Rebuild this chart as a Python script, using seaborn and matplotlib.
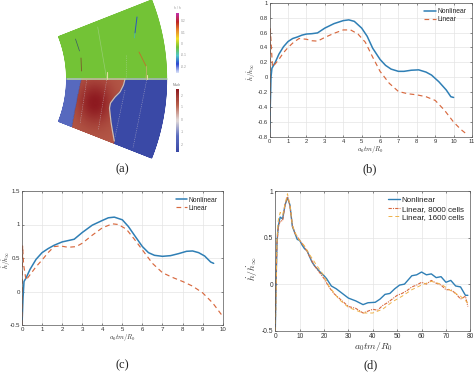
import numpy as np
import pandas as pd
import matplotlib
matplotlib.use('Agg')
import matplotlib.pyplot as plt
from matplotlib.colors import LinearSegmentedColormap
import seaborn as sns

# panel b
b_nl_t = [0, 0.03, 0.07, 0.12, 0.3, 0.5, 0.75, 1, 1.25, 1.5, 1.75, 2, 2.3, 2.6, 3, 3.5, 4, 4.3, 4.6, 5, 5.3, 5.6, 6, 6.3, 6.6, 7, 7.3, 7.7, 8.1, 8.5, 8.8, 9.2, 9.6, 9.85, 10]
b_nl_h = [-0.8, -0.4, 0, 0.12, 0.2, 0.31, 0.41, 0.48, 0.52, 0.54, 0.565, 0.58, 0.585, 0.595, 0.66, 0.72, 0.76, 0.77, 0.75, 0.66, 0.55, 0.39, 0.24, 0.16, 0.11, 0.08, 0.08, 0.095, 0.1, 0.07, 0.03, -0.06, -0.17, -0.26, -0.27]
b_li_t = [0, 0.03, 0.08, 0.15, 0.3, 0.5, 0.75, 1, 1.3, 1.6, 2, 2.3, 2.6, 3, 3.5, 4, 4.4, 4.8, 5.2, 5.6, 6, 6.5, 7, 7.5, 8, 8.5, 9, 9.5, 10, 10.4, 10.7]
b_li_h = [-0.8, 0.65, 0.45, 0.14, 0.18, 0.24, 0.33, 0.4, 0.47, 0.52, 0.51, 0.49, 0.485, 0.535, 0.59, 0.635, 0.635, 0.58, 0.47, 0.27, 0.08, -0.08, -0.19, -0.22, -0.235, -0.26, -0.31, -0.44, -0.6, -0.7, -0.76]

# panel c
c_nl_t = [0, 0.05, 0.1, 0.2, 0.4, 0.7, 1, 1.3, 1.6, 2, 2.3, 2.6, 3, 3.5, 4, 4.3, 4.6, 5, 5.3, 5.6, 6, 6.3, 6.6, 7, 7.4, 7.8, 8.2, 8.5, 8.8, 9.1, 9.4, 9.55]
c_nl_h = [-0.5, -0.1, 0.15, 0.2, 0.33, 0.48, 0.58, 0.64, 0.69, 0.74, 0.76, 0.78, 0.88, 0.99, 1.06, 1.1, 1.11, 1.07, 0.97, 0.84, 0.67, 0.58, 0.54, 0.525, 0.535, 0.565, 0.6, 0.605, 0.58, 0.53, 0.44, 0.42]
c_li_t = [0, 0.03, 0.08, 0.2, 0.4, 0.7, 1, 1.3, 1.6, 1.9, 2.3, 2.7, 3, 3.5, 4, 4.5, 4.8, 5.2, 5.6, 6, 6.5, 7, 7.5, 8, 8.5, 9, 9.5, 10]
c_li_h = [-0.5, 0.68, 0.4, 0.17, 0.25, 0.37, 0.47, 0.58, 0.67, 0.68, 0.66, 0.67, 0.72, 0.84, 0.95, 1.01, 1.0, 0.93, 0.78, 0.62, 0.42, 0.28, 0.21, 0.15, 0.08, -0.02, -0.17, -0.37]

# panel d
d_nl_t = [0, 0.3, 0.7, 1.2, 2, 3, 4, 5, 6, 7, 8, 9, 10, 11, 12, 13, 14, 15, 16, 18, 20, 21, 23, 25, 27, 30, 33, 36, 38, 41, 43, 45, 47, 49, 51, 53, 55, 56, 58, 60, 62, 64, 66, 68, 70, 72, 74, 76, 78, 79]
d_nl_h = [-0.5, 0, 0.45, 0.62, 0.72, 0.7, 0.85, 0.93, 0.85, 0.62, 0.55, 0.48, 0.47, 0.42, 0.38, 0.36, 0.3, 0.24, 0.2, 0.14, 0.09, 0.06, -0.02, -0.05, -0.09, -0.15, -0.18, -0.22, -0.2, -0.195, -0.16, -0.11, -0.1, -0.05, -0.01, 0, 0.06, 0.09, 0.1, 0.13, 0.1, 0.11, 0.07, 0.08, 0.02, 0.04, -0.02, -0.03, -0.12, -0.12]
d_l8_t = [0, 0.3, 0.7, 1.2, 2, 3, 4, 5, 6, 7, 8, 10, 12, 14, 16, 18, 20, 22, 24, 27, 30, 33, 36, 38, 40, 42, 44, 46, 48, 50, 52, 54, 56, 58, 60, 62, 64, 66, 68, 70, 72, 74, 76, 78, 79]
d_l8_h = [-0.5, 0, 0.45, 0.6, 0.68, 0.68, 0.85, 0.94, 0.84, 0.63, 0.55, 0.47, 0.4, 0.3, 0.2, 0.13, 0.06, -0.03, -0.1, -0.17, -0.24, -0.26, -0.31, -0.29, -0.27, -0.28, -0.23, -0.2, -0.16, -0.12, -0.1, -0.07, -0.03, -0.01, 0.02, 0, 0.04, 0.01, -0.01, -0.06, -0.06, -0.1, -0.16, -0.13, -0.24]
d_l1_t = [0, 0.3, 0.7, 1.2, 2, 3, 4, 5, 6, 7, 9, 12, 14, 17, 20, 22, 26, 30, 36, 40, 44, 48, 52, 56, 60, 64, 68, 72, 76, 79]
d_l1_h = [-0.5, -0.1, 0.5, 0.68, 0.77, 0.74, 0.86, 0.97, 0.85, 0.63, 0.5, 0.41, 0.32, 0.2, 0.09, -0.02, -0.16, -0.25, -0.31, -0.31, -0.27, -0.19, -0.13, -0.06, -0.01, 0.03, 0, -0.07, -0.13, -0.2]

# panel a, field boundaries
inner_y = [79, 100, 125]
inner_x = [81.7, 77, 72.3]
outer_y = [79, 85, 92, 97, 103, 108, 113, 122, 130, 141]
outer_x = [125, 123.5, 120, 115, 110.5, 109.5, 110, 111, 112.3, 114.3]
top_ticks = ['0.2', '0.1', '0', '-0.1', '-0.2']
bot_ticks = ['2', '1', '0', '-1', '-2']

BLUE = '#2f7fb5'
ORANGE = '#d8693f'
YELLOW = '#efb24a'

sns.set_style('white')
plt.rcParams['font.family'] = ['Liberation Sans', 'DejaVu Sans']
plt.rcParams['mathtext.fontset'] = 'cm'

W, H = 474, 372
fig = plt.figure(figsize=(W / 100, H / 100), dpi=100)


def px_axes(left, top, right, bottom):
    return fig.add_axes([left / W, 1 - bottom / H, (right - left) / W, (bottom - top) / H])


# overlay in pixel units for panel a and the captions
ax0 = fig.add_axes([0, 0, 1, 1])
ax0.set_xlim(0, W)
ax0.set_ylim(H, 0)
ax0.axis('off')

cx, cy = -48.9, 79
r_in, r_out = 115.5, 215.5
half = np.deg2rad(21.5)
rr = np.linspace(r_in, r_out, 200)

jet_top = LinearSegmentedColormap.from_list('top', ['#d3dcf6', '#2a45d0', '#4fc6c9', '#71c236', '#f0df25', '#e8862a', '#bd2323', '#c22fa5'])
warm = LinearSegmentedColormap.from_list('warm', ['#3a49a6', '#5a6cc0', '#e0d8d8', '#b8604c', '#8e1a20'])

# top half, flat green
tt = np.linspace(-half, 0, 80)
R, T = np.meshgrid(rr, tt)
ax0.pcolormesh(cx + R * np.cos(T), cy + R * np.sin(T), np.full(R.shape, 0.43), cmap=jet_top, vmin=0, vmax=1, shading='gouraud')

# bottom half
tt = np.linspace(0, half, 200)
R, T = np.meshgrid(rr, tt)
X = cx + R * np.cos(T)
Y = cy + R * np.sin(T)
in_edge = np.interp(Y, inner_y, inner_x)
out_edge = np.interp(Y, outer_y, outer_x)
field = np.full(X.shape, 0.0)
field[X < in_edge] = 0.23
inside = (X >= in_edge) & (X < out_edge)
blob = np.exp(-((X - 95) ** 2 / 260 + (Y - 103) ** 2 / 420))
field[inside] = (0.78 + 0.22 * blob)[inside]
ax0.pcolormesh(X, Y, field, cmap=warm, vmin=0, vmax=1, shading='gouraud')
edge_y = np.linspace(79, 141, 60)
ax0.plot(np.interp(edge_y, outer_y, outer_x), edge_y, color='#cdbcb4', lw=0.9)
ax0.plot([cx + r_in, cx + r_out], [cy, cy], color='#b9d9a4', lw=1.1)

# cell-block lines
for xs, ys in [([86.7, 80], [80, 124]), ([106.7, 98.3], [80, 130]), ([146.7, 133], [80, 148]), ([125, 115], [90, 137])]:
    ax0.plot(xs, ys, color='#c9c3cf', lw=0.4, ls=(0, (2, 2)), alpha=0.7)
ax0.plot([97.7, 106.7], [27, 79], color='#a5d28c', lw=0.5, alpha=0.7)
ax0.plot([126, 126], [55, 79], color='#a5d28c', lw=0.4, ls=(0, (2, 2)))
ax0.plot([146.7, 146], [66, 79], color='#c8b070', lw=0.5)
ax0.plot([106.7, 106.7], [72, 79], color='#dfe0a0', lw=0.8)
ax0.plot([146.7, 146.7], [75, 79], color='#dfe0a0', lw=0.8)

# shock streaks
ax0.plot([75.5, 79.5], [39, 51], color='#3c5a68', lw=0.5)
ax0.plot([81, 81.5], [58, 71], color='#7a5a2a', lw=0.6)
ax0.plot([137, 135], [17, 33], color='#2a55c0', lw=0.7)
ax0.plot([135, 134.5], [33, 38], color='#46b8c0', lw=0.5)
ax0.plot([139, 146], [52, 66], color='#c0702a', lw=0.6)

# colour bars
grad = np.linspace(1, 0, 60).reshape(-1, 1)
ax0.pcolormesh([175.7, 179.5], np.linspace(12.7, 73, 61), grad, cmap=jet_top, vmin=0, vmax=1)
ax0.pcolormesh([175.7, 179.5], np.linspace(89, 152, 61), grad, cmap=warm, vmin=0, vmax=1)
for lab, y in zip(top_ticks, [20.7, 32.7, 43.7, 55, 66.7]):
    ax0.text(181, y, lab, fontsize=2.4, color='#999999', va='center')
for lab, y in zip(bot_ticks, [95.7, 107.3, 120, 132.3, 145]):
    ax0.text(181, y, lab, fontsize=2.4, color='#999999', va='center')
ax0.text(177, 8, 'h / h', fontsize=2.4, color='#999999', ha='center', va='center')
ax0.text(177, 84.5, 'Mach', fontsize=2.4, color='#777777', ha='center', va='center')

for lab, x, y in [('(a)', 122, 169), ('(b)', 370, 169), ('(c)', 122.7, 365), ('(d)', 371, 365)]:
    ax0.text(x, y, lab, family='Liberation Serif', fontsize=9, color='#222222', ha='center', va='center')


def draw(ax, t, h, color, lw, ls, label):
    df = pd.DataFrame({'t': t, 'h': h})
    sns.lineplot(data=df, x='t', y='h', ax=ax, color=color, lw=lw, linestyle=ls, sort=False, estimator=None, errorbar=None, label=label)


def style(ax, xlim, ylim, xticks, yticks, yfmt, size):
    ax.set_xlim(*xlim)
    ax.set_ylim(*ylim)
    ax.set_xticks(xticks)
    ax.set_yticks(yticks)
    ax.set_xticklabels([str(v) for v in xticks])
    ax.set_yticklabels([yfmt(v) for v in yticks])
    ax.grid(True, color='#e4e4e4', lw=0.5)
    ax.tick_params(direction='in', length=1.5, width=0.4, labelsize=size, pad=1.5, colors='#333333', top=True, left=True, bottom=True, right=True)
    for s in ax.spines.values():
        s.set_color('#555555')
        s.set_linewidth(0.5)
    ax.set_xlabel('')
    ax.set_ylabel('')
    ax.patch.set_alpha(0)


def fmt(v):
    if v == int(v):
        return str(int(v))
    return ('%.1f' % v)


def put_legend(ax, x_px, y_px, size, hl, hp, ls):
    # x_px, y_px: top left of the legend in figure pixels
    leg = ax.legend(loc='upper left', bbox_to_anchor=(x_px / W, 1 - y_px / H), bbox_transform=fig.transFigure,
                    frameon=False, fontsize=size, labelspacing=ls, handlelength=hl, handletextpad=hp,
                    borderpad=0, borderaxespad=0)
    for t in leg.get_texts():
        t.set_color('#222222')


ax_b = px_axes(269.7, 2.7, 472, 137)
draw(ax_b, b_nl_t, b_nl_h, BLUE, 1.1, '-', 'Nonlinear')
draw(ax_b, b_li_t, b_li_h, ORANGE, 0.85, (0, (4, 3)), 'Linear')
style(ax_b, (0, 11), (-0.8, 1), list(range(12)), [-0.8, -0.6, -0.4, -0.2, 0, 0.2, 0.4, 0.6, 0.8, 1], fmt, 4.2)
put_legend(ax_b, 423.7, 8.0, 4.9, 1.8, 0.3, 0.15)
fig.text(370.5 / W, 1 - 149.5 / H, r'$a_0tm/R_0$', fontsize=4.8, color='#333333', ha='center', va='center')
fig.text(252 / W, 1 - 72 / H, r'$\dot{h}/\dot{h}_\infty$', fontsize=5.0, color='#333333', rotation=90, ha='center', va='center')

ax_c = px_axes(22, 191, 222.7, 325)
draw(ax_c, c_nl_t, c_nl_h, BLUE, 1.1, '-', 'Nonlinear')
draw(ax_c, c_li_t, c_li_h, ORANGE, 0.85, (0, (4, 3)), 'Linear')
style(ax_c, (0, 10), (-0.5, 1.5), list(range(11)), [-0.5, 0, 0.5, 1, 1.5], fmt, 4.4)
put_legend(ax_c, 175.7, 196.5, 4.9, 1.7, 0.25, 0.15)
fig.text(123 / W, 1 - 337.5 / H, r'$a_0tm/R_0$', fontsize=4.8, color='#333333', ha='center', va='center')
fig.text(6.5 / W, 1 - 260 / H, r'$\dot{h}/\dot{h}_\infty$', fontsize=5.0, color='#333333', rotation=90, ha='center', va='center')

ax_d = px_axes(275.3, 191, 470.3, 330.7)
draw(ax_d, d_nl_t, d_nl_h, BLUE, 1.0, '-', 'Nonlinear')
draw(ax_d, d_l8_t, d_l8_h, ORANGE, 0.8, (0, (3, 1, 1, 1)), 'Linear, 8000 cells')
draw(ax_d, d_l1_t, d_l1_h, YELLOW, 0.7, (0, (4, 3)), 'Linear, 1600 cells')
style(ax_d, (0, 80), (-0.5, 1), list(range(0, 81, 10)), [-0.5, 0, 0.5, 1], fmt, 4.8)
put_legend(ax_d, 387.7, 196.5, 5.8, 1.55, 0.2, 0.1)
fig.text(373 / W, 1 - 346.5 / H, r'$a_0tm/R_0$', fontsize=7.0, color='#333333', ha='center', va='center')
fig.text(252 / W, 1 - 269 / H, r'$\dot{h}/\dot{h}_\infty$', fontsize=7.0, color='#333333', rotation=90, ha='center', va='center')

fig.savefig('out.png', dpi=100)
